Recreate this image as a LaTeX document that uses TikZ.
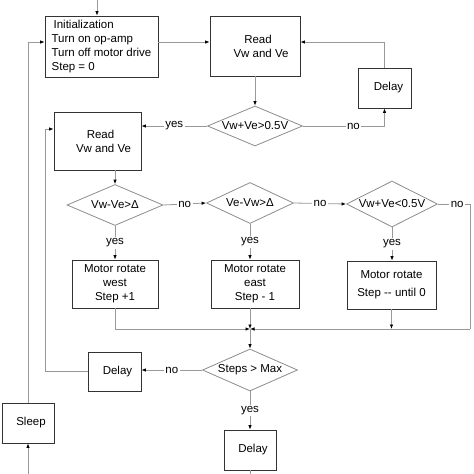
\documentclass[tikz,border=0pt]{standalone}
\usepackage{fontspec}
\setmainfont{Liberation Sans}
\usetikzlibrary{shapes.geometric,arrows.meta}
\begin{document}
\begin{tikzpicture}[x=1pt,y=-1pt,
  font=\fontsize{11.5}{14}\selectfont,
  box/.style={draw=black!80,line width=0.8pt,rectangle,inner sep=0pt,align=center},
  dia/.style={draw=black!45,line width=0.8pt,diamond,aspect=2.4,inner sep=0pt},
  con/.style={draw=black!40,line width=0.8pt},
  arr/.style={con,-{Latex[length=4.5pt,width=3.5pt,color=black]}},
  lab/.style={fill=white,inner sep=1.5pt}]
\useasboundingbox (0,0) rectangle (474,474);
\node[box,minimum width=113pt,minimum height=61pt,align=left] (init) at (101.5,46.5)
  {\hspace*{2pt}Initialization\\Turn on op-amp\\Turn off motor drive\\Step = 0};
\node[box,minimum width=90pt,minimum height=60pt] (read1) at (255,46) {\hspace*{6pt}Read\\\hspace*{12pt}Vw and Ve};
\node[box,minimum width=53pt,minimum height=40pt] (delayR) at (384.5,88) {\hspace*{8pt}Delay};
\node[dia,minimum width=95pt,minimum height=40pt] (d1) at (255,126) {Vw+Ve>0.5V};
\node[box,minimum width=87pt,minimum height=58pt] (read2) at (97.5,141) {\hspace*{6pt}Read\\\hspace*{12pt}Vw and Ve};
\node[dia,minimum width=96pt,minimum height=41pt] (d2) at (115,205) {Vw-Ve>Δ};
\node[dia,minimum width=87pt,minimum height=41pt] (d3) at (250,203) {Ve-Vw>Δ};
\node[dia,minimum width=91pt,minimum height=46pt] (d4) at (392,204) {Vw+Ve<0.5V};
\node[box,minimum width=86pt,minimum height=48pt] (m1) at (115,284) {Motor rotate\\west\\Step +1};
\node[box,minimum width=88pt,minimum height=48pt] (m2) at (255,284) {Motor rotate\\east\\Step - 1};
\node[box,minimum width=89pt,minimum height=48pt] (m3) at (391.5,285) {Motor rotate\\[4pt]Step -{}- until 0};
\coordinate (J) at (250,329);
\coordinate (R) at (470,329);
\node[dia,minimum width=95pt,minimum height=42pt] (d5) at (250,370) {Steps > Max};
\node[box,minimum width=53pt,minimum height=39pt] (delayL) at (114.5,371.5) {\hspace*{6pt}Delay};
\node[box,minimum width=52pt,minimum height=40pt] (delayB) at (250,450) {\hspace*{6pt}Delay};
\node[box,minimum width=52pt,minimum height=40pt] (sleep) at (28,423) {\hspace*{6pt}Sleep};
\coordinate (top) at (97,0);
\coordinate (a42) at (0,42);
\coordinate (bot) at (250,474);
\coordinate (sbot) at (28,474);
\coordinate (lx) at (45,129);
% connectors
\draw[arr] (top) -- (top |- init.north);
\draw[arr] (init.east |- a42) -- (read1.west |- a42);
\draw[arr] (delayR.north) |- (read1.east |- a42);
\draw[arr] (read1.south) -- (d1.north);
\draw[arr] (d1.east) -| node[lab,pos=0.31] {no} (delayR.south);
\draw[arr] (d1.west) -- node[lab] {yes} (d1.west -| read2.east);
\draw[arr] (read2.south -| d2.north) -- (d2.north);
\draw[arr] (d2.east) -- node[lab] {no} (d3.west);
\draw[arr] (d3.east) -- node[lab] {no} (d4.west);
\draw[con] (d4.east) -- node[lab,pos=0.6] {no} (d4.east -| R) -- (R);
\draw[arr] (R) -- (J);
\draw[arr] (d2.south) -- node[lab] {yes} (d2.south |- m1.north);
\draw[arr] (d3.south) -- node[lab] {yes} (d3.south |- m2.north);
\draw[arr] (d4.south) -- node[lab] {yes} (d4.south |- m3.north);
\draw[arr] (m1.south) |- (J);
\draw[arr] (m2.south -| J) -- (J);
\draw[arr] (m3.south) -- (m3.south |- J);
\draw[arr] (J) -- (d5.north);
\draw[arr] (d5.west) -- node[lab] {no} (d5.west -| delayL.east);
\draw[arr] (d5.south) -- node[lab] {yes} (delayB.north);
\draw[con] (delayB.south) -- (bot);
\draw[arr] (delayL.west) -| (lx) -- (lx -| read2.west);
\draw[arr] (sbot) -- (sleep.south);
\draw[arr] (sleep.north) |- (init.west |- a42);
\end{tikzpicture}
\end{document}
